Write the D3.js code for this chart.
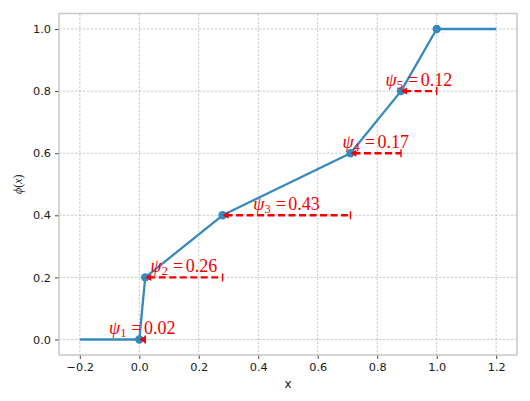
<!DOCTYPE html>
<html>
<head>
<meta charset="utf-8">
<script src="https://cdn.jsdelivr.net/npm/d3@7"></script>
<style>
  body { margin: 0; background: #fff; }
  svg { display: block; }
</style>
</head>
<body>
<div id="chart"></div>
<script>
// knots of the piecewise-linear map phi(x)
const knotX = [0, 0.02, 0.28, 0.71, 0.88, 1.0];
const knotY = [0, 0.2, 0.4, 0.6, 0.8, 1.0];
// full curve with flat tails
const curveX = [-0.2, 0, 0.02, 0.28, 0.71, 0.88, 1.0, 1.2];
const curveY = [0, 0, 0.2, 0.4, 0.6, 0.8, 1.0, 1.0];
// interval widths psi_i
const psiValues = [0.02, 0.26, 0.43, 0.17, 0.12];
const psiLabels = ["0.02", "0.26", "0.43", "0.17", "0.12"];
const xTicks = [-0.2, 0.0, 0.2, 0.4, 0.6, 0.8, 1.0, 1.2];
const yTicks = [0.0, 0.2, 0.4, 0.6, 0.8, 1.0];

const width = 530, height = 401;
const margin = { top: 13.5, right: 13, bottom: 46, left: 59 };

const svg = d3.select("#chart").append("svg")
  .attr("width", width)
  .attr("height", height);

const x = d3.scaleLinear().domain([-0.27, 1.27]).range([margin.left, width - margin.right]);
const y = d3.scaleLinear().domain([-0.05, 1.05]).range([height - margin.bottom, margin.top]);

const fmt = d3.format(".1f");

// grid
const grid = svg.append("g").attr("stroke", "#b5b5b5").attr("stroke-width", 0.7).attr("stroke-dasharray", "2.5,1.5");
grid.selectAll(".gx").data(xTicks).enter().append("line")
  .attr("x1", d => x(d)).attr("x2", d => x(d))
  .attr("y1", margin.top).attr("y2", height - margin.bottom);
grid.selectAll(".gy").data(yTicks).enter().append("line")
  .attr("y1", d => y(d)).attr("y2", d => y(d))
  .attr("x1", margin.left).attr("x2", width - margin.right);

// axes
const xAxis = svg.append("g")
  .attr("transform", `translate(0,${height - margin.bottom})`)
  .call(d3.axisBottom(x).tickValues(xTicks).tickFormat(fmt).tickSize(4).tickPadding(4));
const yAxis = svg.append("g")
  .attr("transform", `translate(${margin.left},0)`)
  .call(d3.axisLeft(y).tickValues(yTicks).tickFormat(fmt).tickSize(4).tickPadding(4));
[xAxis, yAxis].forEach(a => {
  a.select(".domain").remove();
  a.selectAll("line").attr("stroke", "#333").attr("stroke-width", 0.9);
  a.selectAll("text").attr("fill", "#1a1a1a").style("font-family", "DejaVu Sans").style("font-size", "11.3px");
});

// frame
svg.append("rect")
  .attr("x", margin.left).attr("y", margin.top)
  .attr("width", width - margin.left - margin.right)
  .attr("height", height - margin.top - margin.bottom)
  .attr("fill", "none").attr("stroke", "#c4c4c4").attr("stroke-width", 1.4);

// axis labels
svg.append("text")
  .attr("x", x(0.5)).attr("y", 388)
  .attr("text-anchor", "middle")
  .style("font-family", "DejaVu Sans").style("font-size", "12px").attr("fill", "#1a1a1a")
  .text("x");
svg.append("text")
  .attr("transform", `translate(22,${y(0.5)}) rotate(-90)`)
  .attr("text-anchor", "middle")
  .style("font-family", "Liberation Serif").style("font-size", "12px").attr("fill", "#222")
  .html('<tspan font-style="italic">ϕ</tspan>(<tspan font-style="italic">x</tspan>)');

// curve
const blue = "#348ABD";
const line = d3.line().x(d => x(d[0])).y(d => y(d[1]));
svg.append("path")
  .datum(curveX.map((v, i) => [v, curveY[i]]))
  .attr("d", line)
  .attr("fill", "none")
  .attr("stroke", blue)
  .attr("stroke-width", 2.3)
  .attr("stroke-linejoin", "round");

svg.selectAll(".knot").data(knotX).enter().append("circle")
  .attr("cx", d => x(d)).attr("cy", (d, i) => y(knotY[i]))
  .attr("r", 4.2).attr("fill", blue);

// psi intervals
const red = "#f00000";
const segs = psiValues.map((p, i) => ({ x0: knotX[i], x1: knotX[i] + p, y: knotY[i], label: psiLabels[i], i: i + 1 }));

const sg = svg.selectAll(".psi").data(segs).enter().append("g");
sg.append("line")
  .attr("x1", d => x(d.x0) + 3).attr("x2", d => x(d.x1))
  .attr("y1", d => y(d.y)).attr("y2", d => y(d.y))
  .attr("stroke", red).attr("stroke-width", 2.4)
  .attr("stroke-dasharray", "7,3.5");
// arrowhead at start
sg.append("path")
  .attr("d", d => {
    const px = x(d.x0), py = y(d.y);
    return `M${px},${py}L${px + 6},${py - 3.5}L${px + 6},${py + 3.5}Z`;
  })
  .attr("fill", red);
// bar at end
sg.append("line")
  .attr("x1", d => x(d.x1)).attr("x2", d => x(d.x1))
  .attr("y1", d => y(d.y) - 4).attr("y2", d => y(d.y) + 4)
  .attr("stroke", red).attr("stroke-width", 1.4);

// labels
const lbl = sg.append("text")
  .attr("x", d => x((d.x0 + d.x1) / 2))
  .attr("y", d => y(d.y) - 5.5)
  .attr("text-anchor", "middle")
  .attr("fill", red)
  .style("font-family", "Liberation Serif, DejaVu Serif")
  .style("font-size", "18px");
lbl.append("tspan").attr("font-style", "italic").text("ψ");
lbl.append("tspan").attr("font-size", "12.5px").attr("dy", 3.5).text(d => d.i);
lbl.append("tspan").attr("dy", -3.5).attr("dx", 5).text("=");
lbl.append("tspan").attr("dx", 2.5).text(d => d.label);
</script>
</body>
</html>
